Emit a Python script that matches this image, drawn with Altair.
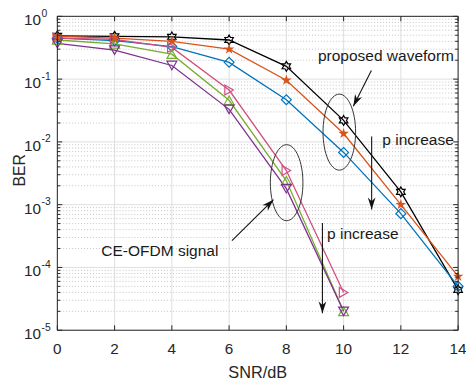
import altair as alt
import pandas as pd

# ---------------- data ----------------
SNR_PROPOSED = [0, 2, 4, 6, 8, 10, 12, 14]
BER_PROP_BLACK = [0.49, 0.48, 0.47, 0.42, 0.16, 0.022, 0.0016, 4.4e-5]
BER_PROP_ORANGE = [0.48, 0.45, 0.40, 0.30, 0.096, 0.0136, 0.001, 7.2e-5]
BER_PROP_BLUE = [0.45, 0.41, 0.33, 0.185, 0.047, 0.0068, 7.2e-4, 5.0e-5]

SNR_CE = [0, 2, 4, 6, 8, 10]
BER_CE_PINK = [0.45, 0.43, 0.32, 0.067, 0.0035, 4.0e-5]
BER_CE_GREEN = [0.42, 0.365, 0.25, 0.046, 0.0024, 2.0e-5]
BER_CE_PURPLE = [0.37, 0.29, 0.165, 0.033, 0.0018, 2.0e-5]

SERIES = ["proposed p1", "proposed p2", "proposed p3", "CE-OFDM p1", "CE-OFDM p2", "CE-OFDM p3"]
COLORS = ["#000000", "#D95319", "#0072BD", "#D24D80", "#77AC30", "#7E2F8E"]

X_TICKS = [0, 2, 4, 6, 8, 10, 12, 14]
Y_DECADES = [1, 1e-1, 1e-2, 1e-3, 1e-4, 1e-5]
Y_EXPONENTS = ["0", "-1", "-2", "-3", "-4", "-5"]
Y_MINOR = [m * 10.0 ** e for e in range(-5, 0) for m in range(2, 10)]

X_TITLE = "SNR/dB"
Y_TITLE = "BER"

# annotations (data coordinates)
TEXT_LABELS = ["proposed waveform", "p increase", "p increase", "CE-OFDM signal"]
TEXT_X = [11.48, 12.6, 10.67, 3.58]
TEXT_Y = [0.196, 0.0088, 2.8e-4, 1.52e-4]

ELL_X = [9.85, 8.01]
ELL_Y = [0.0143, 0.00224]

ARR_X1 = [10.97, 10.98, 6.10, 9.26]
ARR_Y1 = [0.137, 0.0122, 2.68e-4, 5.1e-4]
ARR_X2 = [10.34, 10.98, 7.55, 9.26]
ARR_Y2 = [0.037, 8.4e-4, 1.2e-3, 1.86e-5]
ARR_ANGLE = [206, 180, 45, 180]

# ---------------- tables ----------------
rows = []
for name, snr, vals in [
    (SERIES[0], SNR_PROPOSED, BER_PROP_BLACK),
    (SERIES[1], SNR_PROPOSED, BER_PROP_ORANGE),
    (SERIES[2], SNR_PROPOSED, BER_PROP_BLUE),
    (SERIES[3], SNR_CE, BER_CE_PINK),
    (SERIES[4], SNR_CE, BER_CE_GREEN),
    (SERIES[5], SNR_CE, BER_CE_PURPLE),
]:
    for s, b in zip(snr, vals):
        rows.append({"series": name, "snr": s, "ber": b})
df = pd.DataFrame(rows)

txt_df = pd.DataFrame({"snr": TEXT_X, "ber": TEXT_Y, "label": TEXT_LABELS})
ell_df = pd.DataFrame({"snr": ELL_X, "ber": ELL_Y})
arr_df = pd.DataFrame({"snr": ARR_X1, "ber": ARR_Y1, "snr2": ARR_X2, "ber2": ARR_Y2, "angle": ARR_ANGLE})
ydec_df = pd.DataFrame({"ber": Y_DECADES, "exp": Y_EXPONENTS})
ymin_df = pd.DataFrame({"ber": Y_MINOR})
xt_df = pd.DataFrame({"snr": X_TICKS})
one = pd.DataFrame({"k": [0]})

# ---------------- styling ----------------
W, H = 406, 318
FONT = "Liberation Sans"
AX = "#262626"
GRID = "#dedede"

HEXAGRAM = ("M0,-1 L0.2887,-0.5 L0.866,-0.5 L0.577,0 L0.866,0.5 L0.2887,0.5 L0,1 "
            "L-0.2887,0.5 L-0.866,0.5 L-0.577,0 L-0.866,-0.5 L-0.2887,-0.5 Z")
PENTAGRAM = ("M0,-1 L0.2245,-0.309 L0.951,-0.309 L0.363,0.118 L0.588,0.809 L0,0.382 "
             "L-0.588,0.809 L-0.363,0.118 L-0.951,-0.309 L-0.2245,-0.309 Z")
ELLIPSE = ("M0,-1 C0.2367,-1 0.4286,-0.5523 0.4286,0 C0.4286,0.5523 0.2367,1 0,1 "
           "C-0.2367,1 -0.4286,0.5523 -0.4286,0 C-0.4286,-0.5523 -0.2367,-1 0,-1 Z")
ARROWHEAD = "M0,0 L0.65,2 L0,1.4 L-0.65,2 Z"
SHAPES = [HEXAGRAM, PENTAGRAM, "diamond", "triangle-right", "triangle-up", "triangle-down"]

x_scale = alt.Scale(domain=[0, 14], nice=False)
y_scale = alt.Scale(type="log", domain=[1e-5, 1], nice=False)
color_scale = alt.Scale(domain=SERIES, range=COLORS)
shape_scale = alt.Scale(domain=SERIES, range=SHAPES)

X = alt.X("snr:Q", scale=x_scale, axis=None)
Y = alt.Y("ber:Q", scale=y_scale, axis=None)

# grids
xgrid = alt.Chart(xt_df).mark_rule(color=GRID, strokeWidth=1).encode(x=X)
ygrid = alt.Chart(ydec_df).mark_rule(color=GRID, strokeWidth=1).encode(y=Y)
minor_grid = alt.Chart(ymin_df).mark_rule(color="#c4c4c4", strokeWidth=1, strokeDash=[1, 2]).encode(y=Y)

# frame
frame_top = alt.Chart(one).mark_rule(color=AX, strokeWidth=1).encode(
    x=alt.value(0), x2=alt.value(W), y=alt.value(0))
frame_bottom = alt.Chart(one).mark_rule(color=AX, strokeWidth=1).encode(
    x=alt.value(0), x2=alt.value(W), y=alt.value(H))
frame_left = alt.Chart(one).mark_rule(color=AX, strokeWidth=1).encode(
    x=alt.value(0), y=alt.value(0), y2=alt.value(H))
frame_right = alt.Chart(one).mark_rule(color=AX, strokeWidth=1).encode(
    x=alt.value(W), y=alt.value(0), y2=alt.value(H))

# inward ticks
ymaj_l = alt.Chart(ydec_df).mark_rule(color=AX, strokeWidth=1).encode(y=Y, x=alt.value(0), x2=alt.value(5))
ymaj_r = alt.Chart(ydec_df).mark_rule(color=AX, strokeWidth=1).encode(y=Y, x=alt.value(W - 5), x2=alt.value(W))
ymin_l = alt.Chart(ymin_df).mark_rule(color=AX, strokeWidth=1).encode(y=Y, x=alt.value(0), x2=alt.value(3))
ymin_r = alt.Chart(ymin_df).mark_rule(color=AX, strokeWidth=1).encode(y=Y, x=alt.value(W - 3), x2=alt.value(W))
xt_b = alt.Chart(xt_df).mark_rule(color=AX, strokeWidth=1).encode(x=X, y=alt.value(H - 5), y2=alt.value(H))
xt_t = alt.Chart(xt_df).mark_rule(color=AX, strokeWidth=1).encode(x=X, y=alt.value(0), y2=alt.value(5))

# data
lines = alt.Chart(df).mark_line(strokeWidth=1.3).encode(
    x=X, y=Y, color=alt.Color("series:N", scale=color_scale, legend=None), detail="series:N")
points_open = alt.Chart(df).transform_filter(alt.datum.series != SERIES[1]).mark_point(
    filled=False, strokeWidth=1.2, size=100, opacity=1).encode(
    x=X, y=Y, color=alt.Color("series:N", scale=color_scale, legend=None),
    shape=alt.Shape("series:N", scale=shape_scale, legend=None))
points_filled = alt.Chart(df).transform_filter(alt.datum.series == SERIES[1]).mark_point(
    filled=True, shape=PENTAGRAM, size=130, opacity=1, color=COLORS[1]).encode(x=X, y=Y)

# annotations
ellipses = alt.Chart(ell_df).mark_point(shape=ELLIPSE, filled=False, color="#333333",
                                        strokeWidth=1, size=5929, opacity=1).encode(x=X, y=Y)
arrows = alt.Chart(arr_df).mark_rule(color="#111111", strokeWidth=1.1).encode(
    x=X, y=Y, x2="snr2:Q", y2="ber2:Q")
heads = alt.Chart(arr_df).mark_point(shape=ARROWHEAD, filled=True, color="#111111",
                                     size=144, opacity=1).encode(
    x=alt.X("snr2:Q", scale=x_scale, axis=None), y=alt.Y("ber2:Q", scale=y_scale, axis=None),
    angle=alt.Angle("angle:Q", scale=None))
texts = alt.Chart(txt_df).mark_text(font=FONT, fontSize=15.7, color="#1a1a1a",
                                    align="center", baseline="alphabetic").encode(
    x=X, y=Y, text="label:N")

# tick labels
xlab = alt.Chart(xt_df).mark_text(font=FONT, fontSize=15.5, color=AX, align="center",
                                  baseline="top").encode(
    x=X, y=alt.value(H + 12.5), text=alt.Text("snr:Q", format="d"))
ylab_base = alt.Chart(ydec_df).mark_text(font=FONT, fontSize=15.5, color=AX, align="right",
                                         baseline="alphabetic", dy=9).encode(
    y=Y, x=alt.value(-16.5), text=alt.value("10"))
ylab_exp = alt.Chart(ydec_df).mark_text(font=FONT, fontSize=10.5, color=AX, align="left",
                                        baseline="alphabetic", dy=0.5).encode(
    y=Y, x=alt.value(-16), text="exp:N")

# axis titles
x_title = alt.Chart(one).mark_text(font=FONT, fontSize=16.5, color=AX, align="center",
                                   baseline="alphabetic").encode(
    x=alt.value(W / 2), y=alt.value(H + 48), text=alt.value(X_TITLE))
y_title = alt.Chart(one).mark_text(font=FONT, fontSize=16, color=AX, align="center",
                                   baseline="alphabetic", angle=270).encode(
    x=alt.value(-33), y=alt.value(156), text=alt.value(Y_TITLE))

chart = alt.layer(
    xgrid, ygrid, minor_grid,
    lines, points_open, points_filled,
    ellipses, arrows, heads, texts,
    frame_top, frame_bottom, frame_left, frame_right,
    ymaj_l, ymaj_r, ymin_l, ymin_r, xt_b, xt_t,
    xlab, ylab_base, ylab_exp, x_title, y_title,
).properties(
    width=W, height=H,
    padding={"left": 50, "top": 6, "right": 8, "bottom": 50},
    autosize=alt.AutoSizeParams(type="none"),
    background="white",
).configure_view(stroke=None)

chart.save("out.html", embed_options={"renderer": "svg", "actions": False})
